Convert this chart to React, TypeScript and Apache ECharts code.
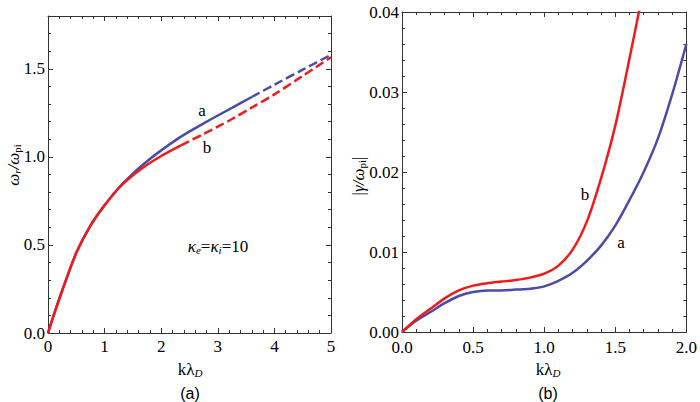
import React, { useEffect, useRef } from "react";
import * as echarts from "echarts";

// Panel (a): real frequency ω_r/ω_pi versus kλ_D
const kLeft = [0, 0.1, 0.25, 0.5, 0.75, 1, 1.25, 1.5, 1.75, 2, 2.35, 2.75, 3, 3.25, 3.6, 4, 4.5, 5];
const omegaA = [0, 0.1, 0.24, 0.455, 0.61, 0.725, 0.825, 0.905, 0.975, 1.037, 1.115, 1.19, 1.235, 1.278, 1.34, 1.41, 1.495, 1.58];
const omegaB = [0, 0.1, 0.24, 0.455, 0.61, 0.725, 0.822, 0.895, 0.955, 1.005, 1.065, 1.13, 1.172, 1.215, 1.28, 1.355, 1.46, 1.566];
const solidEndA = 3.6;
const solidEndB = 2.35;

// Panel (b): damping rate |γ/ω_pi| versus kλ_D
const kRight = [0, 0.1, 0.2, 0.3, 0.4, 0.5, 0.6, 0.7, 0.8, 0.9, 1.0, 1.1, 1.2, 1.3, 1.4, 1.5, 1.6, 1.7, 1.8, 1.9, 2.0];
const gammaA = [0, 0.0014, 0.0025, 0.0036, 0.0045, 0.005, 0.0052, 0.0052, 0.0053, 0.0054, 0.0057, 0.0064, 0.0074, 0.0089, 0.0108, 0.0133, 0.0165, 0.02, 0.0242, 0.0297, 0.036];
const gammaB = [0, 0.0016, 0.0029, 0.0042, 0.0052, 0.0058, 0.0061, 0.0063, 0.0065, 0.0068, 0.0073, 0.0083, 0.0103, 0.0138, 0.0192, 0.0258, 0.0342, 0.043];

const BLUE = "#4b4ba8";
const RED = "#f01a1a";
const FRAME = "#333";
const SERIF = "Liberation Serif";
const SANS = "Liberation Sans";

const pairs = (ks: number[], vs: number[], lo: number, hi: number) =>
  ks.map((k, i) => [k, vs[i]]).filter((p) => p[0] >= lo - 1e-9 && p[0] <= hi + 1e-9);

const frameAxis = (extra: any) => ({
  type: "value",
  axisLine: { show: true, onZero: false, lineStyle: { color: FRAME, width: 1 } },
  axisTick: { show: true, inside: true, length: 5, lineStyle: { color: FRAME } },
  minorTick: { show: true, splitNumber: 5, length: 3, lineStyle: { color: FRAME } },
  splitLine: { show: false },
  axisLabel: { show: false },
  ...extra,
});

const tickLabel = (fmt: (v: number) => string, margin: number, extra: any = {}) => ({
  show: true,
  color: "#000",
  fontFamily: SERIF,
  fontSize: 17,
  margin,
  formatter: fmt,
  ...extra,
});

const line = (data: number[][], color: string, xi: number, yi: number, dashed: boolean) => ({
  type: "line",
  xAxisIndex: xi,
  yAxisIndex: yi,
  data,
  showSymbol: false,
  smooth: 0.3,
  lineStyle: { color, width: 2.5, type: dashed ? [9, 4] : "solid" },
});

const subRich = {
  m: { fontFamily: SERIF, fontSize: 17, lineHeight: 18, color: "#000" },
  i: { fontFamily: SERIF, fontSize: 17, fontStyle: "italic", lineHeight: 18, color: "#000" },
  s: { fontFamily: SERIF, fontSize: 11, fontStyle: "italic", lineHeight: 8, verticalAlign: "bottom", color: "#000" },
  u: { fontFamily: SERIF, fontSize: 11, lineHeight: 8, verticalAlign: "bottom", color: "#000" },
};

const richText = (x: number, y: number, text: string, rotation = 0) => ({
  type: "text",
  x,
  y,
  rotation,
  style: { text, rich: subRich, align: "center", verticalAlign: "middle" },
});

const plainText = (x: number, y: number, text: string, font = SERIF, size = 17) => ({
  type: "text",
  x,
  y,
  style: { text, fontFamily: font, fontSize: size, fill: "#000", align: "center", verticalAlign: "middle" },
});

export default function App() {
  const ref = useRef<HTMLDivElement>(null);

  useEffect(() => {
    if (!ref.current) return;
    const chart = echarts.init(ref.current, null, { renderer: "svg" });
    chart.setOption({
      animation: false,
      backgroundColor: "#fff",
      grid: [
        { left: 48, top: 16, width: 283, height: 317, containLabel: false },
        { left: 402, top: 12, width: 286, height: 320, containLabel: false },
      ],
      xAxis: [
        frameAxis({ gridIndex: 0, position: "bottom", min: 0, max: 5, interval: 1, axisLabel: tickLabel((v: number) => v.toFixed(0), 5) }),
        frameAxis({ gridIndex: 0, position: "top", min: 0, max: 5, interval: 1 }),
        frameAxis({
          gridIndex: 1,
          position: "bottom",
          min: 0,
          max: 2,
          interval: 0.5,
          axisLabel: tickLabel((v: number) => v.toFixed(1), 7, { lineHeight: 16 }),
        }),
        frameAxis({ gridIndex: 1, position: "top", min: 0, max: 2, interval: 0.5 }),
      ],
      yAxis: [
        frameAxis({
          gridIndex: 0,
          position: "left",
          min: 0,
          max: 1.8,
          interval: 0.5,
          axisLabel: tickLabel((v: number) => v.toFixed(1), 3, { showMaxLabel: false }),
        }),
        frameAxis({ gridIndex: 0, position: "right", min: 0, max: 1.8, interval: 0.5 }),
        frameAxis({
          gridIndex: 1,
          position: "left",
          min: 0,
          max: 0.04,
          interval: 0.01,
          axisLabel: tickLabel((v: number) => v.toFixed(2), 3, { lineHeight: 14 }),
        }),
        frameAxis({ gridIndex: 1, position: "right", min: 0, max: 0.04, interval: 0.01 }),
      ],
      series: [
        line(pairs(kLeft, omegaA, 0, solidEndA), BLUE, 0, 0, false),
        line(pairs(kLeft, omegaA, solidEndA, 5), BLUE, 0, 0, true),
        line(pairs(kLeft, omegaB, 0, solidEndB), RED, 0, 0, false),
        line(pairs(kLeft, omegaB, solidEndB, 5), RED, 0, 0, true),
        line(pairs(kRight, gammaA, 0, 2), BLUE, 2, 2, false),
        line(pairs(kRight, gammaB, 0, 2), RED, 2, 2, false),
      ],
      graphic: [
        plainText(202, 110, "a"),
        plainText(207, 147, "b"),
        richText(218, 246, "{i|κ}{s|e}{m|=}{i|κ}{s|i}{m|=10}"),
        plainText(585, 194, "b"),
        plainText(621, 242, "a"),
        richText(190, 369, "{m|kλ}{s|D}"),
        richText(548, 369, "{m|kλ}{s|D}"),
        plainText(190, 393, "(a)", SANS, 16),
        plainText(548, 393, "(b)", SANS, 16),
        richText(13, 165, "{i|ω}{s|r}{i|/ω}{u|pi}", Math.PI / 2),
        richText(358, 176, "{m||}{i|γ/ω}{u|pi}{m||}", Math.PI / 2),
      ],
    });
    return () => chart.dispose();
  }, []);

  return (
    <div
      ref={ref}
      style={{ position: "fixed", left: 0, top: 0, width: 700, height: 402, background: "#fff" }}
    />
  );
}
